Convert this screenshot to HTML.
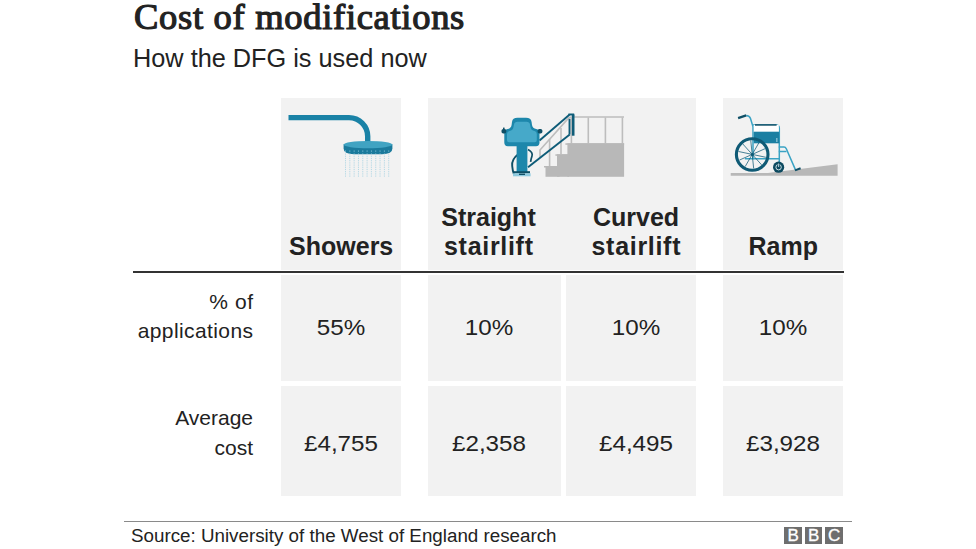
<!DOCTYPE html>
<html><head><meta charset="utf-8">
<style>
html,body{margin:0;padding:0;background:#fff;}
body{width:976px;height:549px;position:relative;overflow:hidden;font-family:"Liberation Sans",sans-serif;color:#222;}
.a{position:absolute;white-space:nowrap;}
.t{font-family:"Liberation Serif",serif;font-weight:normal;font-size:36.5px;line-height:36.5px;left:134px;top:-1.4px;color:#222;-webkit-text-stroke:1.2px #222;letter-spacing:0.7px;}
.st{font-size:25.3px;line-height:25.3px;left:133px;top:45.6px;color:#222;}
.p{position:absolute;background:#f2f2f2;}
.h{font-weight:bold;font-size:25px;line-height:25px;width:200px;text-align:center;}
.v{font-size:22px;line-height:22px;width:200px;text-align:center;transform:scaleX(1.1);}
.r{font-size:21px;line-height:21px;width:200px;left:53px;text-align:right;}
.bx{width:17.7px;height:16.7px;background:#6e6e6e;color:#fff;font-weight:normal;font-size:17px;line-height:17.5px;-webkit-text-stroke:0.3px #fff;text-align:center;}
.src{font-size:18.8px;line-height:18.8px;left:131px;top:527.4px;}
</style></head><body>
<div class="a t">Cost of modifications</div>
<div class="a st">How the DFG is used now</div>

<!-- header panels -->
<div class="p" style="left:281px;top:97.5px;width:120px;height:172px"></div>
<div class="p" style="left:427.5px;top:97.5px;width:268.5px;height:172px"></div>
<div class="p" style="left:723px;top:97.5px;width:120px;height:172px"></div>

<!-- header line -->
<div class="p" style="left:132.5px;top:271.4px;width:711px;height:1.9px;background:#333"></div>

<!-- row 1 -->
<div class="p" style="left:281px;top:275px;width:120px;height:105.5px"></div>
<div class="p" style="left:427.5px;top:275px;width:133px;height:105.5px"></div>
<div class="p" style="left:565.5px;top:275px;width:130.5px;height:105.5px"></div>
<div class="p" style="left:723px;top:275px;width:120px;height:105.5px"></div>
<!-- row 2 -->
<div class="p" style="left:281px;top:385.5px;width:120px;height:110px"></div>
<div class="p" style="left:427.5px;top:385.5px;width:133px;height:110px"></div>
<div class="p" style="left:565.5px;top:385.5px;width:130.5px;height:110px"></div>
<div class="p" style="left:723px;top:385.5px;width:120px;height:110px"></div>

<!-- header labels -->
<div class="a h" style="left:241.2px;top:234px">Showers</div>
<div class="a h" style="left:388.5px;top:205px">Straight</div>
<div class="a h" style="left:388.5px;top:234px;letter-spacing:0.7px;text-indent:0.7px">stairlift</div>
<div class="a h" style="left:536px;top:205px">Curved</div>
<div class="a h" style="left:536px;top:234px;letter-spacing:0.7px;text-indent:0.7px">stairlift</div>
<div class="a h" style="left:683.3px;top:234px">Ramp</div>

<!-- row labels -->
<div class="a r" style="top:291px;letter-spacing:0.6px;left:53.6px">% of</div>
<div class="a r" style="top:320px;letter-spacing:0.4px;left:53.4px">applications</div>
<div class="a r" style="top:407px">Average</div>
<div class="a r" style="top:437px">cost</div>

<!-- values -->
<div class="a v" style="left:241.2px;top:317.2px">55%</div>
<div class="a v" style="left:388.5px;top:317.2px">10%</div>
<div class="a v" style="left:536px;top:317.2px">10%</div>
<div class="a v" style="left:683.3px;top:317.2px">10%</div>
<div class="a v" style="left:241.2px;top:433.2px">£4,755</div>
<div class="a v" style="left:388.5px;top:433.2px">£2,358</div>
<div class="a v" style="left:536px;top:433.2px">£4,495</div>
<div class="a v" style="left:683.3px;top:433.2px">£3,928</div>

<!-- footer -->
<div class="p" style="left:123.5px;top:520.7px;width:728.5px;height:1.8px;background:#8a8a8a"></div>
<div class="a src">Source: University of the West of England research</div>
<div class="p bx" style="left:784.3px;top:527px;">B</div>
<div class="p bx" style="left:804.8px;top:527px;">B</div>
<div class="p bx" style="left:825.3px;top:527px;">C</div>

<!-- ICONS -->
<svg class="a" style="left:0;top:0" width="976" height="549" viewBox="0 0 976 549">
<!-- shower -->
<path d="M288.5,117.6 H349 A18.7,18.7 0 0 1 367.7,136.3 V143" fill="none" stroke="#1a82a6" stroke-width="5.4"/>
<path d="M343.6,144.2 V148.5 Q343.6,154.2 354,154.2 H382 Q392.4,154.2 392.4,148.5 V144.2 Z" fill="#1a7a9c"/>
<ellipse cx="368" cy="144.6" rx="24.4" ry="3.6" fill="#40a3c2"/>
<g stroke="#acd5e3" stroke-width="0.9" stroke-dasharray="1.2 1">
<line x1="345.50" y1="153.5" x2="345.50" y2="177.5"/><line x1="349.82" y1="153.5" x2="349.82" y2="177.5"/><line x1="354.14" y1="153.5" x2="354.14" y2="177.5"/><line x1="358.46" y1="153.5" x2="358.46" y2="177.5"/><line x1="362.78" y1="153.5" x2="362.78" y2="177.5"/><line x1="367.10" y1="153.5" x2="367.10" y2="177.5"/><line x1="371.42" y1="153.5" x2="371.42" y2="177.5"/><line x1="375.74" y1="153.5" x2="375.74" y2="177.5"/><line x1="380.06" y1="153.5" x2="380.06" y2="177.5"/><line x1="384.38" y1="153.5" x2="384.38" y2="177.5"/><line x1="388.70" y1="153.5" x2="388.70" y2="177.5"/></g>
<g fill="#7dbdd3"><rect x="345.00" y="150.5" width="1" height="1.2"/><rect x="349.32" y="150.5" width="1" height="1.2"/><rect x="353.64" y="150.5" width="1" height="1.2"/><rect x="357.96" y="150.5" width="1" height="1.2"/><rect x="362.28" y="150.5" width="1" height="1.2"/><rect x="366.60" y="150.5" width="1" height="1.2"/><rect x="370.92" y="150.5" width="1" height="1.2"/><rect x="375.24" y="150.5" width="1" height="1.2"/><rect x="379.56" y="150.5" width="1" height="1.2"/><rect x="383.88" y="150.5" width="1" height="1.2"/><rect x="388.20" y="150.5" width="1" height="1.2"/></g>
<!-- stairs -->
<g fill="#b8b8b8">
<rect x="565.4" y="143.3" width="58.7" height="1.5"/>
<rect x="567.4" y="143.3" width="56.7" height="33.5"/>
<rect x="555.4" y="154.3" width="14" height="1.5"/>
<rect x="557" y="154.3" width="12" height="22.5"/>
<rect x="544" y="166" width="14" height="1.5"/>
<rect x="545.5" y="166" width="14" height="10.8"/>
</g>
<g stroke="#bdbdbd" stroke-width="1.6" fill="none">
<path d="M540,157 V150 L568.5,118.2 Q570,117 572,117 H624"/>
<line x1="549.6" y1="139" x2="549.6" y2="166"/>
<line x1="561" y1="128" x2="561" y2="154.3"/>
<line x1="571.4" y1="117.5" x2="571.4" y2="143.3"/>
<line x1="588.3" y1="117.5" x2="588.3" y2="143.3"/>
<line x1="605.4" y1="117.5" x2="605.4" y2="143.3"/>
<line x1="622.4" y1="117.5" x2="622.4" y2="143.3"/>
</g>
<g stroke="#0e5c78" stroke-width="1.9" fill="none">
<line x1="539.5" y1="140.5" x2="569.4" y2="114.8"/>
<line x1="528" y1="167.3" x2="569.8" y2="134.5"/>
<line x1="569.5" y1="118.8" x2="569.5" y2="134.5"/>
</g>
<line x1="573.2" y1="114.5" x2="573.2" y2="135.7" stroke="#0e5c78" stroke-width="2.6"/>
<rect x="568.4" y="113.5" width="5.8" height="2" fill="#0e5c78"/>
<!-- chair -->
<path d="M517.9,154.6 Q511.5,159.5 512.2,166 Q512.6,171 514,174.5" fill="none" stroke="#0e4f66" stroke-width="1.9"/>
<path d="M528,149.5 Q533.2,152.3 532,156 Q531,159 530.6,161.8" fill="none" stroke="#0e4f66" stroke-width="1.7"/>
<rect x="516.6" y="143.5" width="10.8" height="28.5" fill="#1d87ab"/>
<rect x="514" y="171.2" width="16" height="2.2" fill="#0e4f66"/>
<rect x="513" y="173.3" width="17.6" height="3" fill="#8ecadf"/>
<rect x="519" y="173.6" width="6" height="1.4" fill="#0e4f66"/>
<path d="M504.3,133 Q504.3,129.5 507.6,129 Q511,128.5 511.6,125 L512,122 Q512.5,117.8 517.5,117.8 L526,117.8 Q531,117.8 531.6,122 L532,125 Q532.6,128.5 536.2,129 Q539.5,129.5 539.5,133 L539.5,142.5 Q539.5,146.2 536,146.2 L507.8,146.2 Q504.3,146.2 504.3,142.5 Z" fill="#1d87ab"/>
<path d="M507,134 Q507,131.5 509.5,131 Q513,130.5 513.5,127 L514,124.5 Q514.5,121.7 517.5,121.7 L526.5,121.7 Q529.5,121.7 530,124.5 L530.5,127 Q531,130.5 534.5,131 Q536.8,131.5 536.8,134 L536.8,140.2 Q536.8,142.2 534.8,142.2 L509,142.2 Q507,142.2 507,140.2 Z" fill="#46a9c9"/>
<rect x="501.5" y="129" width="4.8" height="4.6" rx="1.8" fill="#0f4f66"/>
<rect x="503" y="127.6" width="1.6" height="2" fill="#0f4f66"/>
<rect x="537.6" y="129" width="4.8" height="4.6" rx="1.8" fill="#0f4f66"/>
<!-- ramp -->
<polygon points="730.7,173 768,173 837.6,164.2 837.6,175.7 730.7,175.7" fill="#b8b8b8"/>
<!-- wheelchair -->
<g fill="none" stroke="#3aa3c4" stroke-width="1.5">
<path d="M746.2,115.4 Q749.5,115.5 750.5,118.5 L753,126.9 V159.3"/>
<path d="M753,125 H776 Q779.3,125 779.3,128.3 V166"/>
<path d="M778.8,146.9 H784 Q785.5,146.9 786.3,148.8 L795.4,169.6"/>
<line x1="778.8" y1="151.5" x2="786.5" y2="151.5"/>
<line x1="744.9" y1="158.8" x2="779.3" y2="158.8"/>
</g>
<rect x="753.8" y="125" width="25" height="7" fill="#ffffff"/><rect x="753.8" y="131.7" width="25.5" height="11.6" fill="#1b7fa2"/>
<rect x="755" y="124.2" width="21.6" height="1.5" fill="#0f4f66"/>
<rect x="776.3" y="138" width="1.1" height="4" fill="#9fd0e0"/>
<line x1="738.1" y1="118.1" x2="746.2" y2="115.4" stroke="#0f4f66" stroke-width="2.2"/>
<line x1="795" y1="170.4" x2="800.6" y2="168.2" stroke="#0f4f66" stroke-width="2"/>
<g stroke="#0f5a75" fill="none">
<circle cx="752.2" cy="154.5" r="15.8" stroke-width="3.1"/>
<line x1="752.2" y1="154.4" x2="765.89" y2="157.31" stroke-width="0.75"/><line x1="752.2" y1="154.4" x2="761.57" y2="164.80" stroke-width="0.75"/><line x1="752.2" y1="154.4" x2="753.66" y2="168.32" stroke-width="0.75"/><line x1="752.2" y1="154.4" x2="745.20" y2="166.52" stroke-width="0.75"/><line x1="752.2" y1="154.4" x2="739.41" y2="160.09" stroke-width="0.75"/><line x1="752.2" y1="154.4" x2="738.51" y2="151.49" stroke-width="0.75"/><line x1="752.2" y1="154.4" x2="742.83" y2="144.00" stroke-width="0.75"/><line x1="752.2" y1="154.4" x2="750.74" y2="140.48" stroke-width="0.75"/><line x1="752.2" y1="154.4" x2="759.20" y2="142.28" stroke-width="0.75"/><line x1="752.2" y1="154.4" x2="764.99" y2="148.71" stroke-width="0.75"/>
</g>
<circle cx="752.3" cy="154.6" r="1.5" fill="#0f5a75"/>
<circle cx="778.6" cy="167.2" r="5.6" fill="#0d4a60"/>
<circle cx="778.6" cy="167.2" r="2.7" fill="none" stroke="#dfeef3" stroke-width="0.9"/>
<rect x="777.6" y="163" width="2" height="4.3" fill="#0d4a60"/>
<line x1="778.6" y1="163.5" x2="778.6" y2="167" stroke="#dfeef3" stroke-width="0.8"/>
</svg>

</body></html>
